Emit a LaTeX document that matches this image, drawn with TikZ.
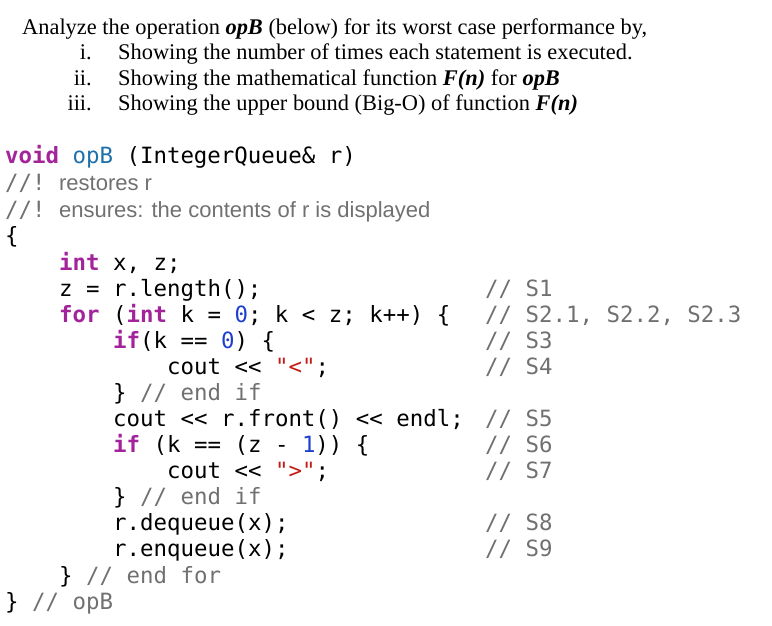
\documentclass[tikz,border=0pt]{standalone}
\usepackage{fontspec}
\setmainfont{Liberation Serif}
\newfontfamily\cmono{DejaVu Sans Mono}
\newfontfamily\csans{Liberation Sans}
\definecolor{kw}{HTML}{A2239A}
\definecolor{fn}{HTML}{1F6FAA}
\definecolor{num}{HTML}{1C3FD0}
\definecolor{str}{HTML}{C41A16}
\definecolor{cm}{HTML}{707070}
\newcommand{\K}[1]{\textcolor{kw}{\textbf{#1}}}
\newcommand{\N}[1]{\textcolor{num}{#1}}
\newcommand{\Sg}[1]{\textcolor{str}{#1}}
\newcommand{\Cm}[1]{\textcolor{cm}{#1}}
\begin{document}
\begin{tikzpicture}[x=1pt,y=-1pt,
  hd/.style={anchor=base west,inner sep=0pt,font=\fontsize{22.4}{26}\selectfont},
  num/.style={anchor=base east,inner sep=0pt,font=\fontsize{22.4}{26}\selectfont},
  code/.style={anchor=base west,inner sep=0pt,font=\cmono\fontsize{22.4}{26}\selectfont},
  cmt/.style={anchor=base west,inner sep=0pt,font=\cmono\fontsize{22.4}{26}\selectfont,text=cm}]
\useasboundingbox (0,0) rectangle (772,625);
\node[hd] (h0) at (22,34) {Analyze the operation \textbf{\textit{opB}} (below) for its worst case performance by,};
\node[num] (n1) at (92,59) {i.};
\node[hd] (t1) at (118,59) {Showing the number of times each statement is executed.};
\node[num] (n2) at (92,85) {ii.};
\node[hd] (t2) at (118,85) {Showing the mathematical function \textbf{\textit{F(n)}} for \textbf{\textit{opB}}};
\node[num] (n3) at (92,110) {iii.};
\node[hd] (t3) at (118,110) {Showing the upper bound (Big-O) of function \textbf{\textit{F(n)}}};
\node[code] (l1) at (5,163) {\K{void} \textcolor{fn}{opB} (IntegerQueue\& r)};
\node[code] (l2) at (5,190) {\Cm{//!}\hspace{0.6em}\textcolor{cm}{\csans\fontsize{22}{26}\selectfont restores r}};
\node[code] (l3) at (5,217) {\Cm{//!}\hspace{0.6em}\textcolor{cm}{\csans\fontsize{22}{26}\selectfont ensures: the contents of r is displayed}};
\node[code] (l4) at (5,243) {\{};
\node[code] (l5) at (59,270) {\K{int} x, z;};
\node[code] (l6) at (59,296) {z = r.length();};
\node[code] (l7) at (59,322) {\K{for} (\K{int} k = \N{0}; k < z; k++) \{};
\node[code] (l8) at (113,348) {\K{if}(k == \N{0}) \{};
\node[code] (l9) at (167,374) {cout << \Sg{"<"};};
\node[code] (l10) at (113,400) {\} \Cm{// end if}};
\node[code] (l11) at (113,426) {cout << r.front() << endl;};
\node[code] (l12) at (113,452) {\K{if} (k == (z - \N{1})) \{};
\node[code] (l13) at (167,478) {cout << \Sg{">"};};
\node[code] (l14) at (113,504) {\} \Cm{// end if}};
\node[code] (l15) at (113,530) {r.dequeue(x);};
\node[code] (l16) at (113,556) {r.enqueue(x);};
\node[code] (l17) at (59,583) {\} \Cm{// end for}};
\node[code] (l18) at (5,609) {\} \Cm{// opB}};
\node[cmt] (c1) at (485,296) {// S1};
\node[cmt] (c2) at (485,322) {// S2.1, S2.2, S2.3};
\node[cmt] (c3) at (485,348) {// S3};
\node[cmt] (c4) at (485,374) {// S4};
\node[cmt] (c5) at (485,426) {// S5};
\node[cmt] (c6) at (485,452) {// S6};
\node[cmt] (c7) at (485,478) {// S7};
\node[cmt] (c8) at (485,530) {// S8};
\node[cmt] (c9) at (485,556) {// S9};
\end{tikzpicture}
\end{document}
